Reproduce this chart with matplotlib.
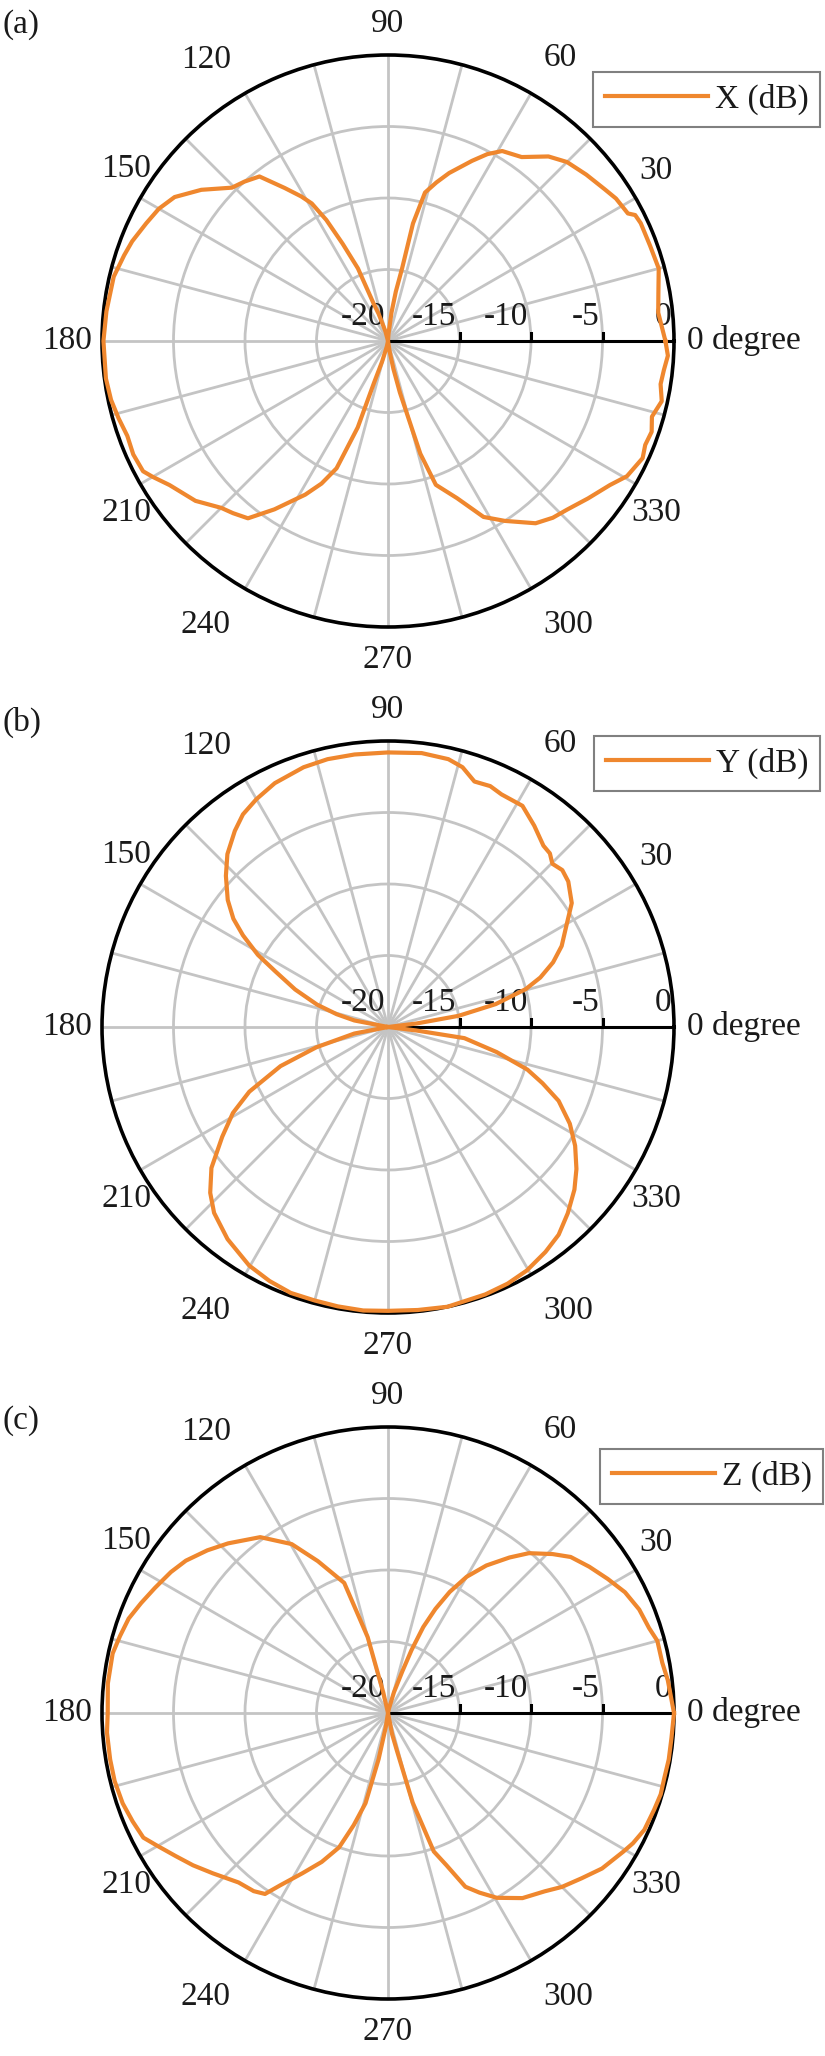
import numpy as np
import matplotlib
matplotlib.use("Agg")
import matplotlib.pyplot as plt
from matplotlib.ticker import FixedLocator
from matplotlib.transforms import offset_copy

plt.rcParams['font.family'] = ['Liberation Serif', 'DejaVu Serif']
plt.rcParams['font.size'] = 24

# ---------------- data (angle in degrees, level in dB) ----------------
x_angle = [0, 6, 10, 15, 20, 25, 27, 28, 32, 35, 40, 45, 49, 54, 59, 62, 65, 70, 73, 76,
           78, 79, 81, 83, 86, 90, 100, 105, 109, 111, 112.5, 115, 117, 119, 121, 124, 128,
           132, 135.5, 141, 146, 150, 154, 158.7, 162, 166.8, 174, 180, 187.6, 192, 196, 200,
           204, 208, 210, 213.4, 219.7, 225, 228, 231.7, 236, 241.7, 245, 248, 250.7, 251.5,
           254, 258, 262, 276, 279, 281, 283, 286, 288.4, 293.7, 298.5, 303, 309, 313, 316.7,
           321.8, 327, 330.5, 335.3, 338, 341, 344, 347.6, 351, 354, 357, 360]
x_db = [-0.6, -1.0, -0.8, -0.4, -0.5, -0.5, -0.6, -1.0, -1.2, -1.5, -1.9, -2.3, -2.9, -4.1,
        -4.5, -5.2, -6.1, -7.5, -8.4, -9.3, -11.6, -14.8, -16.5, -18.0, -19.5, -20, -20, -19.3,
        -18.0, -17.2, -14.5, -12.5, -10.5, -9.0, -8.2, -7.1, -5.4, -5.0, -4.7, -3.2, -2.0, -1.5,
        -1.2, -0.8, -0.6, -0.3, -0.2, -0.1, -0.1, -0.2, -0.4, -0.6, -0.5, -0.6, -1.0, -1.7,
        -2.5, -3.5, -3.8, -4.2, -5.8, -7.8, -9.0, -10.4, -13.6, -16.9, -18.5, -19.6, -20, -20,
        -19.2, -18.0, -16.3, -11.8, -9.4, -8.0, -6.0, -5.0, -3.6, -3.1, -2.8, -2.2, -1.5, -0.8,
        -0.4, -0.6, -0.5, -0.8, -0.4, -0.7, -0.6, -0.4, -0.6]

y_angle = [0, 5, 7, 9, 12, 15.4, 18, 21.4, 25, 29.4, 34, 38.9, 42, 44.8, 47, 49.4, 54, 58.7,
           64, 67, 70.6, 74, 77.3, 83, 90, 97, 102.7, 108, 114.9, 120, 124.3, 128, 132.9, 137,
           141.6, 145, 147.7, 151, 153.7, 158, 162.5, 166, 169, 174, 180, 186, 191, 195.8, 200,
           205, 209, 213.5, 218.6, 223, 226.9, 232.9, 239.8, 245, 249.9, 255, 259.8, 265, 270,
           276, 282, 290, 295, 299.7, 305, 309.4, 314, 318.9, 323, 327.6, 332, 336.6, 340, 343,
           347, 351.7, 353, 356, 360]
y_db = [-20, -20, -18.0, -15.0, -12.3, -10.0, -8.8, -7.6, -6.6, -5.7, -4.5, -3.8, -3.6, -3.8,
        -3.4, -3.3, -2.6, -1.9, -1.9, -1.7, -1.8, -1.1, -0.8, -0.7, -0.8, -0.8, -0.8, -0.9,
        -1.2, -1.6, -2.0, -2.6, -3.5, -4.5, -5.7, -6.8, -8.0, -9.6, -11.2, -13.0, -14.8, -16.3,
        -17.6, -20, -20, -20, -17.6, -14.8, -12.0, -9.3, -7.6, -6.1, -4.2, -3.0, -2.2, -1.4,
        -0.7, -0.4, -0.2, -0.2, -0.15, -0.1, -0.15, -0.1, 0, -0.1, -0.2, -0.4, -0.8, -1.2, -1.9,
        -2.7, -3.5, -4.5, -5.6, -7.0, -8.5, -9.8, -12.2, -14.6, -18.0, -20, -20]

z_angle = [0, 6.7, 10.4, 15, 18, 22.4, 27, 31.4, 36, 40.5, 44, 48.6, 52, 56.3, 60, 63, 65.5,
           67.7, 69.5, 71, 74, 78, 82, 98, 100, 103, 105, 108.6, 114.8, 119.7, 126, 133.3, 138,
           143, 147, 151.8, 156, 160, 164, 167.8, 174, 180, 184, 189.5, 194, 198.8, 203, 207,
           210, 214, 218, 222.5, 228.6, 233, 235.8, 238, 241.9, 246, 250, 253, 256, 258.5, 261,
           264, 278, 281, 283.3, 285.4, 288.3, 291, 294, 297, 300.5, 306, 311.3, 315, 319.5, 324,
           329.5, 332, 335.5, 340, 343.4, 347, 350.6, 355, 360]
z_db = [0, -0.3, -0.5, -0.5, -0.8, -1.0, -1.4, -2.0, -2.6, -3.2, -4.0, -5.1, -6.2, -7.6, -9.0,
        -10.5, -12.0, -13.5, -15.3, -16.9, -18.5, -19.7, -20, -20, -20, -18.5, -14.5, -10.4,
        -8.3, -6.4, -4.8, -3.7, -3.0, -2.3, -1.9, -1.5, -1.1, -0.7, -0.5, -0.3, -0.3, -0.4,
        -0.3, -0.3, -0.3, -0.4, -0.6, -0.8, -1.4, -2.1, -2.7, -3.4, -4.2, -4.4, -4.7, -5.8,
        -7.3, -8.6, -10.0, -11.8, -13.5, -16.7, -19.0, -20, -20, -18.5, -17.3, -13.5, -9.8,
        -8.6, -6.7, -5.9, -5.0, -4.0, -3.4, -2.8, -2.2, -1.5, -0.9, -0.6, -0.3, -0.2, -0.1,
        -0.15, -0.1, -0.1, 0]

series_labels = ['X (dB)', 'Y (dB)', 'Z (dB)']
panel_letters = ['(a)', '(b)', '(c)']
r_ticks = [-20, -15, -10, -5, 0]
r_grid = [-15, -10, -5]
theta_major = list(range(0, 360, 30))
theta_minor = list(range(15, 360, 30))
theta_labels = ['0 degree', '30', '60', '90', '120', '150', '180', '210', '240', '270', '300', '330']

# ---------------- layout / style ----------------
W, H = 825, 2056
CX, R = 388, 286
CYS = [341, 1027, 1713]
LEG_POS = [(593, 72), (594, 736), (600, 1449)]
LETTER_Y = [25, 722, 1421]
ORANGE = '#EF872E'
GRAY = '#C4C4C4'
TXT = '#1a1a1a'

# label offsets (px from centre) for theta labels
label_off = {'30': (268, 170), '60': (172, 283), '90': (0, 317), '120': (-182, 281),
             '150': (-262, 172), '180': (-321, 0), '210': (-262, -172), '240': (-182, -284),
             '270': (0, -319), '300': (180, -284), '330': (268, -172)}

fig = plt.figure(figsize=(W / 100, H / 100), dpi=100)

datasets = [(x_angle, x_db), (y_angle, y_db), (z_angle, z_db)]
for i, (ang, db) in enumerate(datasets):
    cy = CYS[i]
    rect = [(CX - R) / W, 1 - (cy + R) / H, 2 * R / W, 2 * R / H]
    ax = fig.add_axes(rect, projection='polar')
    ax.set_theta_zero_location('E')
    ax.set_theta_direction(1)
    ax.set_rlim(r_ticks[0], r_ticks[-1])

    ax.xaxis.set_major_locator(FixedLocator(np.deg2rad(theta_major)))
    ax.xaxis.set_minor_locator(FixedLocator(np.deg2rad(theta_minor)))
    ax.yaxis.set_major_locator(FixedLocator(r_grid))
    ax.tick_params(axis='x', which='major', direction='in', length=6, width=2.4,
                   color='k', labelbottom=False)
    ax.tick_params(axis='x', which='minor', length=0)
    ax.tick_params(axis='y', length=0, labelleft=False)
    ax.xaxis.grid(True, which='both', color=GRAY, lw=2.0)
    ax.yaxis.grid(True, which='major', color=GRAY, lw=2.0)
    ax.set_axisbelow(True)
    ax.spines['polar'].set_linewidth(2.6)
    ax.spines['polar'].set_color('k')

    # radial axis line along 0 degrees with tick marks
    ax.plot([0, 0], [r_ticks[0], r_ticks[-1]], color='k', lw=2.2, zorder=3, clip_on=False)
    ax.plot(np.zeros(len(r_grid)), r_grid, ls='none', marker=2, ms=6.5, mew=2.2,
            color='k', zorder=3)

    # radial tick labels
    trans = offset_copy(ax.transData, fig=fig, x=-3, y=24, units='dots')
    for v in r_ticks:
        ax.text(0, v, f'{v:d}', transform=trans, ha='right', va='center', zorder=3.5,
                color=TXT)

    # data
    ax.plot(np.deg2rad(ang), np.clip(db, r_ticks[0], r_ticks[-1]), color=ORANGE, lw=3.0,
            zorder=4, label=series_labels[i], clip_on=False)

    # theta labels
    for t in theta_labels:
        if t == '0 degree':
            ax.text(0.5 + 299 / (2 * R), 0.5, t, transform=ax.transAxes, ha='left',
                    va='center', color=TXT)
        else:
            dx, dy = label_off[t]
            ax.text(0.5 + dx / (2 * R), 0.5 + dy / (2 * R), t, transform=ax.transAxes,
                    ha='center', va='center', color=TXT)

    lx, ly = LEG_POS[i]
    leg = ax.legend(loc='upper left', bbox_to_anchor=(lx / W, 1 - ly / H),
                    bbox_transform=fig.transFigure, fancybox=False, edgecolor='#808080',
                    framealpha=1, handlelength=3.1, handletextpad=0.2, borderpad=0.35,
                    borderaxespad=0)
    leg.get_frame().set_linewidth(1.5)
    for txt in leg.get_texts():
        txt.set_color(TXT)

    fig.text(3 / W, 1 - LETTER_Y[i] / H, panel_letters[i], ha='left', va='center',
             color=TXT)

fig.savefig('out.png', dpi=100)
